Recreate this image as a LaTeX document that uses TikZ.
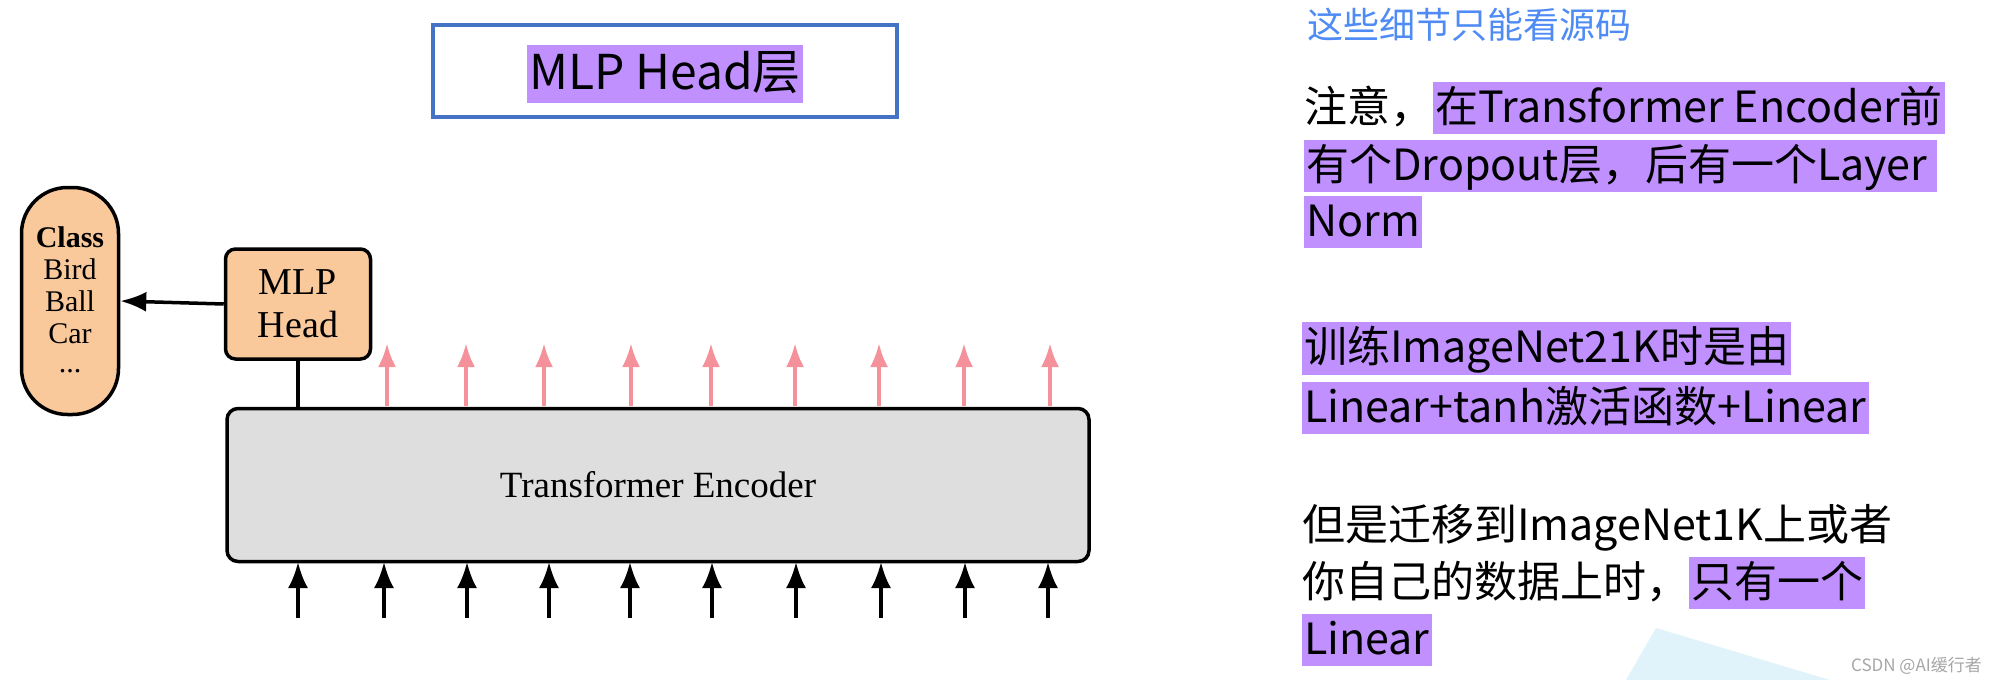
\documentclass[tikz,border=0pt]{standalone}
\usepackage{fontspec}
\setmainfont{Liberation Serif}
\newfontfamily\cjk{Noto Sans CJK SC}
\usetikzlibrary{arrows.meta}
\definecolor{peach}{HTML}{F9C89B}
\definecolor{encgray}{HTML}{DEDEDE}
\definecolor{hlc}{HTML}{C190FF}
\definecolor{ttlblue}{HTML}{4472C4}
\definecolor{headblue}{HTML}{4F8BF5}
\definecolor{pinkar}{HTML}{F4919B}
\definecolor{tri}{HTML}{E1F3FA}
\setlength{\fboxsep}{2pt}
\newcommand{\hlx}[1]{\colorbox{hlc}{\rule[-0.24em]{0pt}{1.12em}#1}}
\tikzset{
  box/.style={draw=black,line width=3.5pt,rounded corners=10pt,fill=peach,align=center},
  note/.style={anchor=base west,inner sep=0pt,font=\cjk\fontsize{43}{43}\selectfont},
  blk/.style={line width=3.5pt,-{Latex[length=26pt,width=20pt]}},
  pnk/.style={line width=4pt,draw=pinkar,-{Latex[length=24pt,width=18pt]}}
}
\begin{document}
\begin{tikzpicture}[x=1pt,y=-1pt]
\useasboundingbox (0,0) rectangle (1992,680);
\fill[tri] (1656,628) -- (1626,680) -- (1830,680) -- cycle;
% title
\node[draw=ttlblue,line width=4pt,minimum width=464pt,minimum height=92pt] (title) at (665,71) {};
\node[inner sep=0pt,font=\cjk\fontsize{48}{48}\selectfont] (titletxt) at (665,74) {\hlx{MLP Head层}};
% class
\node[box,minimum width=97pt,minimum height=227pt,rounded corners=46pt,inner sep=0pt,font=\fontsize{30}{32}\selectfont] (class) at (70,301) {\textbf{Class}\\Bird\\Ball\\Car\\\raisebox{3pt}{...}};
\node[box,minimum width=145pt,minimum height=110pt,inner sep=0pt,font=\fontsize{38}{43}\selectfont] (mlp) at (298,304) {MLP\\Head};
\node[draw=black,line width=3.5pt,rounded corners=11pt,fill=encgray,minimum width=862pt,minimum height=153pt,font=\fontsize{37}{37}\selectfont] (enc) at (658,485) {Transformer Encoder};
\draw[blk] (mlp.west) -- (class.east);
\draw[line width=3.5pt] (mlp.south) -- (mlp.south |- enc.north);
\foreach \x [count=\i] in {387,466,544,631,711,795,879,964,1050}{
  \coordinate (pt\i) at (\x,343);
  \draw[pnk] (\x,406) -- (pt\i);
}
\foreach \x [count=\i] in {298,384,467,549,630,712,796,881,965,1048}{
  \coordinate (bb\i) at (\x,618);
  \draw[blk] (bb\i) -- (\x,562);
}
% right text
\node[anchor=base west,inner sep=0pt,text=headblue,font=\cjk\fontsize{36}{36}\selectfont] (h0) at (1307,38) {这些细节只能看源码};
\node[note] (l1) at (1304,122) {注意，\hlx{在Transformer Encoder前}};
\node[note] (l2) at (1304,180) {\hlx{有个Dropout层，后有一个Layer\,}};
\node[note] (l3) at (1304,236) {\hlx{Norm}};
\node[note] (l4) at (1302,362) {\hlx{训练ImageNet21K时是由}};
\node[note] (l5) at (1302,422) {\hlx{Linear+tanh激活函数+Linear}};
\node[note] (l6) at (1302,540) {但是迁移到ImageNet1K上或者};
\node[note] (l7) at (1302,597) {你自己的数据上时，\hlx{只有一个}};
\node[note] (l8) at (1302,654) {\hlx{Linear}};
\node[anchor=base east,inner sep=0pt,text=gray!70,font=\cjk\fontsize{17}{17}\selectfont] (wm) at (1982,671) {CSDN @AI缓行者};
\end{tikzpicture}
\end{document}
